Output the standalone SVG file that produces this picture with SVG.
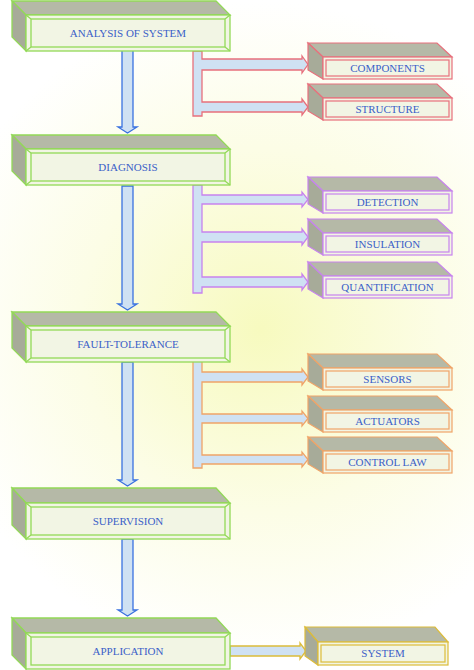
<svg xmlns="http://www.w3.org/2000/svg" width="474" height="670" viewBox="0 0 474 670">
<defs>
<radialGradient id="bg" cx="260" cy="330" r="330" gradientUnits="userSpaceOnUse">
<stop offset="0" stop-color="#f7fabf"/>
<stop offset="0.55" stop-color="#fcfde6"/>
<stop offset="1" stop-color="#ffffff"/>
</radialGradient>
<style>
.top{fill:#b5b9a7}
.side{fill:#a7ab99}
.front{fill:#f2f5e4}
.inner{fill:none}
.g .top,.g .side,.g .front,.g .inner,.g line{stroke:#92d957;stroke-width:1.3}
.r .top,.r .side,.r .front,.r .inner,.r line{stroke:#e8707c;stroke-width:1.2}
.p .top,.p .side,.p .front,.p .inner,.p line{stroke:#c783ee;stroke-width:1.2}
.o .top,.o .side,.o .front,.o .inner,.o line{stroke:#f0a468;stroke-width:1.2}
.y .top,.y .side,.y .front,.y .inner,.y line{stroke:#dcbc3a;stroke-width:1.2}
.lbl{font-family:"Liberation Serif","Times New Roman",serif;font-size:11px;fill:#3b60c8;text-anchor:middle}
.down{fill:#cfe1f3;stroke:#3a72e0;stroke-width:1.3}
.br{fill:#cfe1f3;stroke-width:1.3}
</style>
</defs>
<rect width="474" height="670" fill="url(#bg)"/>

<g id="connectors">
<path class="down" d="M122,50 V127 H118 L127.5,133 L137,127 H133 V50 Z"/>
<path class="down" d="M122,186 V304 H118 L127.5,310 L137,304 H133 V186 Z"/>
<path class="down" d="M122,362 V480 H118 L127.5,486 L137,480 H133 V362 Z"/>
<path class="down" d="M122,539 V610 H118 L127.5,616 L137,610 H133 V539 Z"/>
<path class="br" stroke="#e8707c" d="M193,51 V116 H202 V112 H302 V115 L308,107 L302,99 V102 H202 V70 H302 V73 L308,64.5 L302,56 V59 H202 V51 Z"/>
<path class="br" stroke="#c783ee" d="M193,185 V293 H202 V287 H302 V290 L308,282 L302,274 V277 H202 V242 H302 V245 L308,237 L302,229 V232 H202 V204 H302 V207 L308,199.5 L302,192 V195 H202 V185 Z"/>
<path class="br" stroke="#f0a468" d="M193,361 V468 H202 V464 H302 V467 L308,459.5 L302,452 V455 H202 V423 H302 V426 L308,418.5 L302,411 V414 H202 V382 H302 V385 L308,377 L302,369 V372 H202 V361 Z"/>
<path class="br" stroke="#dcbc3a" d="M230,646 H300 V643 L306,651 L300,659 V656 H230 Z"/>
</g>

<g id="analysis" class="g">
<polygon class="top" points="12,1 216,1 230,15 26,15"/>
<polygon class="side" points="12,1 26,15 26,51 12,37"/>
<rect class="front" x="26" y="15" width="204" height="36"/>
<rect class="inner" x="31" y="19" width="194" height="28"/>
<line x1="26" y1="15" x2="31" y2="19"/><line x1="230" y1="15" x2="225" y2="19"/><line x1="26" y1="51" x2="31" y2="47"/><line x1="230" y1="51" x2="225" y2="47"/>
<text class="lbl" x="128" y="37">ANALYSIS OF SYSTEM</text>
</g>
<g id="diagnosis" class="g">
<polygon class="top" points="12,135 216,135 230,149 26,149"/>
<polygon class="side" points="12,135 26,149 26,185 12,171"/>
<rect class="front" x="26" y="149" width="204" height="36"/>
<rect class="inner" x="31" y="153" width="194" height="28"/>
<line x1="26" y1="149" x2="31" y2="153"/><line x1="230" y1="149" x2="225" y2="153"/><line x1="26" y1="185" x2="31" y2="181"/><line x1="230" y1="185" x2="225" y2="181"/>
<text class="lbl" x="128" y="171">DIAGNOSIS</text>
</g>
<g id="fault-tolerance" class="g">
<polygon class="top" points="12,312 216,312 230,326 26,326"/>
<polygon class="side" points="12,312 26,326 26,362 12,348"/>
<rect class="front" x="26" y="326" width="204" height="36"/>
<rect class="inner" x="31" y="330" width="194" height="28"/>
<line x1="26" y1="326" x2="31" y2="330"/><line x1="230" y1="326" x2="225" y2="330"/><line x1="26" y1="362" x2="31" y2="358"/><line x1="230" y1="362" x2="225" y2="358"/>
<text class="lbl" x="128" y="348">FAULT-TOLERANCE</text>
</g>
<g id="supervision" class="g">
<polygon class="top" points="12,488 216,488 230,503 26,503"/>
<polygon class="side" points="12,488 26,503 26,539 12,525"/>
<rect class="front" x="26" y="503" width="204" height="36"/>
<rect class="inner" x="31" y="507" width="194" height="28"/>
<line x1="26" y1="503" x2="31" y2="507"/><line x1="230" y1="503" x2="225" y2="507"/><line x1="26" y1="539" x2="31" y2="535"/><line x1="230" y1="539" x2="225" y2="535"/>
<text class="lbl" x="128" y="525">SUPERVISION</text>
</g>
<g id="application" class="g">
<polygon class="top" points="12,618 216,618 230,633 26,633"/>
<polygon class="side" points="12,618 26,633 26,669 12,655"/>
<rect class="front" x="26" y="633" width="204" height="36"/>
<rect class="inner" x="31" y="637" width="194" height="28"/>
<line x1="26" y1="633" x2="31" y2="637"/><line x1="230" y1="633" x2="225" y2="637"/>
<text class="lbl" x="128" y="655">APPLICATION</text>
</g>

<g id="components" class="r">
<polygon class="top" points="308,43 437,43 452,57 323,57"/>
<polygon class="side" points="308,43 323,57 323,79 308,70"/>
<rect class="front" x="323" y="57" width="129" height="22"/>
<rect class="inner" x="326" y="60" width="123" height="16"/>
<text class="lbl" x="387.5" y="72">COMPONENTS</text>
</g>
<g id="structure" class="r">
<polygon class="top" points="308,84 437,84 452,98 323,98"/>
<polygon class="side" points="308,84 323,98 323,120 308,111"/>
<rect class="front" x="323" y="98" width="129" height="22"/>
<rect class="inner" x="326" y="101" width="123" height="16"/>
<text class="lbl" x="387.5" y="113">STRUCTURE</text>
</g>
<g id="detection" class="p">
<polygon class="top" points="308,177 437,177 452,191 323,191"/>
<polygon class="side" points="308,177 323,191 323,213 308,204"/>
<rect class="front" x="323" y="191" width="129" height="22"/>
<rect class="inner" x="326" y="194" width="123" height="16"/>
<text class="lbl" x="387.5" y="206">DETECTION</text>
</g>
<g id="insulation" class="p">
<polygon class="top" points="308,219 437,219 452,233 323,233"/>
<polygon class="side" points="308,219 323,233 323,255 308,246"/>
<rect class="front" x="323" y="233" width="129" height="22"/>
<rect class="inner" x="326" y="236" width="123" height="16"/>
<text class="lbl" x="387.5" y="248">INSULATION</text>
</g>
<g id="quantification" class="p">
<polygon class="top" points="308,262 437,262 452,276 323,276"/>
<polygon class="side" points="308,262 323,276 323,298 308,289"/>
<rect class="front" x="323" y="276" width="129" height="22"/>
<rect class="inner" x="326" y="279" width="123" height="16"/>
<text class="lbl" x="387.5" y="291">QUANTIFICATION</text>
</g>
<g id="sensors" class="o">
<polygon class="top" points="308,354 437,354 452,368 323,368"/>
<polygon class="side" points="308,354 323,368 323,390 308,381"/>
<rect class="front" x="323" y="368" width="129" height="22"/>
<rect class="inner" x="326" y="371" width="123" height="16"/>
<text class="lbl" x="387.5" y="383">SENSORS</text>
</g>
<g id="actuators" class="o">
<polygon class="top" points="308,396 437,396 452,410 323,410"/>
<polygon class="side" points="308,396 323,410 323,432 308,423"/>
<rect class="front" x="323" y="410" width="129" height="22"/>
<rect class="inner" x="326" y="413" width="123" height="16"/>
<text class="lbl" x="387.5" y="425">ACTUATORS</text>
</g>
<g id="control-law" class="o">
<polygon class="top" points="308,437 437,437 452,451 323,451"/>
<polygon class="side" points="308,437 323,451 323,473 308,464"/>
<rect class="front" x="323" y="451" width="129" height="22"/>
<rect class="inner" x="326" y="454" width="123" height="16"/>
<text class="lbl" x="387.5" y="466">CONTROL LAW</text>
</g>
<g id="system" class="y">
<polygon class="top" points="305,627 435,627 448,642 318,642"/>
<polygon class="side" points="305,627 318,642 318,665 305,656"/>
<rect class="front" x="318" y="642" width="130" height="23"/>
<rect class="inner" x="321" y="645" width="124" height="17"/>
<text class="lbl" x="383" y="657">SYSTEM</text>
</g>
</svg>
